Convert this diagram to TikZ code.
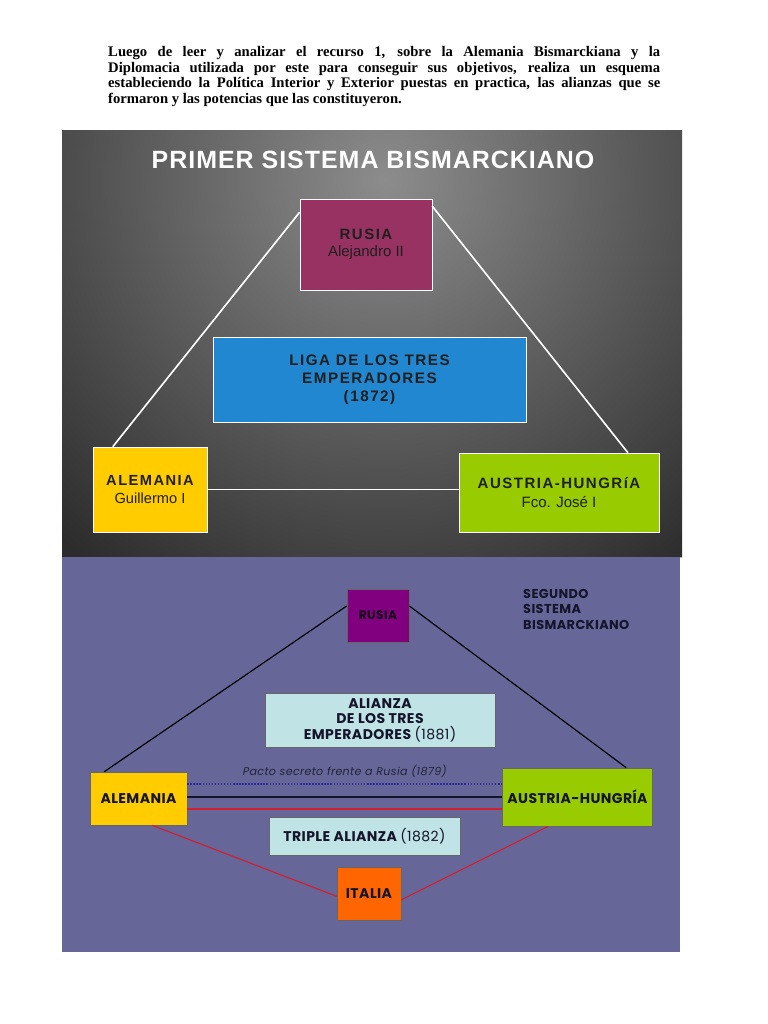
\documentclass[tikz,border=0pt]{standalone}
\usepackage{fontspec}
\setmainfont{Liberation Serif}
\newfontfamily\arial{Liberation Sans}
\newfontfamily\arialesp[LetterSpace=10]{Liberation Sans}
\newfontfamily\titulofont[LetterSpace=4]{Liberation Sans}
\newfontfamily\gothic[LetterSpace=3]{Poppins}
\definecolor{gris claro}{HTML}{8C8C8C}
\definecolor{gris oscuro}{HTML}{2C2C2C}
\definecolor{morado1}{HTML}{983262}
\definecolor{azul liga}{HTML}{2187D0}
\definecolor{amarillo}{HTML}{FFCC00}
\definecolor{verde}{HTML}{99CC00}
\definecolor{fondo2}{HTML}{666699}
\definecolor{morado2}{HTML}{800080}
\definecolor{celeste}{HTML}{C0E3E6}
\definecolor{naranja}{HTML}{FF6600}
\definecolor{rojo}{HTML}{D02030}
\definecolor{azul pacto}{HTML}{2B2B9E}
\definecolor{tinta}{HTML}{14142A}
\begin{document}
\begin{tikzpicture}[x=0.03cm,y=-0.03cm,
    caja1/.style={draw=white,line width=0.5pt,inner sep=0pt,align=center,text=black!88},
    caja2/.style={draw=black!60,line width=0.5pt,inner sep=0pt,align=center,text=tinta,
        font=\gothic\bfseries\fontsize{12}{13.2}\selectfont}]
    \useasboundingbox[fill=white] (0,0) rectangle (768,1024);
    % enunciado
    \node[anchor=north west,inner sep=0pt,text width=16.56cm,align=justify,
        font=\bfseries\fontsize{12.5}{13.4}\selectfont] (enunciado) at (108,46)
        {Luego de leer y analizar el recurso 1, sobre la Alemania Bismarckiana y la\linebreak
        Diplomacia utilizada por este para conseguir sus objetivos, realiza un esquema\linebreak
        estableciendo la Política Interior y Exterior puestas en practica, las alianzas que se\linebreak
        formaron y las potencias que las constituyeron.};
    % primer sistema
    \begin{scope}
        \clip (62,130) rectangle (682,557);
        \fill[gris oscuro] (62,130) rectangle (682,557);
        \shade[inner color=gris claro,outer color=gris oscuro] (385,180) circle (14.5cm);
    \end{scope}
    \draw[gray!60,line width=0.6pt] (62,557)--(682,557);
    \node[text=white,font=\titulofont\bfseries\fontsize{21.3}{24}\selectfont] (titulo) at (373,160) {PRIMER SISTEMA BISMARCKIANO};
    \node[caja1,fill=morado1,minimum width=3.96cm,minimum height=2.73cm,font=\fontsize{12.8}{14.5}\selectfont] (rusia1) at (366,244.5)
        {{\arialesp\bfseries RUSIA}\\{\arial\color{black!88}Alejandro II}};
    \node[caja1,fill=azul liga,minimum width=9.39cm,minimum height=2.55cm,font=\arialesp\bfseries\fontsize{13}{15.3}\selectfont] (liga) at (369.5,379.5)
        {LIGA DE LOS TRES\\EMPERADORES\\(1872)};
    \node[caja1,fill=amarillo,minimum width=3.42cm,minimum height=2.55cm,font=\fontsize{12.5}{15.3}\selectfont] (alemania1) at (150,489.5)
        {{\arialesp\bfseries ALEMANIA}\\{\arial Guillermo I}};
    \node[caja1,fill=verde,minimum width=6cm,minimum height=2.37cm,font=\fontsize{12.8}{15.3}\selectfont] (austria1) at (559,492.5)
        {{\arialesp\bfseries AUSTRIA-HUNGRíA}\\[1pt]{\arial Fco. José I}};
    \draw[white,line width=1.4pt] (rusia1.154) -- (alemania1.131);
    \draw[white,line width=1.4pt] (rusia1.30) -- (austria1.30);
    \draw[white,line width=1.4pt] (alemania1.east) -- (alemania1.east -| austria1.west);
    % segundo sistema
    \fill[fondo2] (62,557) rectangle (680,952);
    \node[caja2,fill=morado2,minimum width=1.86cm,minimum height=1.59cm,text=black!80!morado2,font=\gothic\bfseries\fontsize{10.5}{12}\selectfont] (rusia2) at (378,615.5) {RUSIA};
    \node[anchor=north west,align=left,inner sep=0pt,text=tinta,font=\gothic\bfseries\fontsize{11}{13.2}\selectfont] (segundo) at (523,589)
        {SEGUNDO\\SISTEMA\\BISMARCKIANO};
    \node[caja2,fill=celeste,minimum width=6.9cm,minimum height=1.62cm] (alianza) at (380,720)
        {ALIANZA\\DE LOS TRES\\EMPERADORES {\mdseries (1881)}};
    \node[caja2,fill=amarillo,minimum width=2.91cm,minimum height=1.59cm] (alemania2) at (138.5,798.5) {ALEMANIA};
    \node[caja2,fill=verde,minimum width=4.5cm,minimum height=1.74cm] (austria2) at (577.5,797) {AUSTRIA-HUNGRÍA};
    \node[caja2,fill=celeste,minimum width=5.73cm,minimum height=1.14cm] (triple) at (364.5,836)
        {TRIPLE ALIANZA {\mdseries (1882)}};
    \node[caja2,fill=naranja,minimum width=1.92cm,minimum height=1.59cm] (italia) at (369,893.5) {ITALIA};
    \draw[black,line width=1pt] (rusia2.163) -- (alemania2.142);
    \draw[black,line width=1pt] (rusia2.17) -- (austria2.31);
    \draw[azul pacto,line width=1.3pt,dash pattern=on 1.3pt off 1.3pt] ([yshift=0.43cm]alemania2.east) --
        node[pos=0.5,above=2pt,text=black!65!fondo2,font=\gothic\itshape\fontsize{9.5}{11}\selectfont] (pacto) {Pacto secreto frente a Rusia (1879)}
        ([yshift=0.43cm]alemania2.east -| austria2.west);
    \draw[tinta,line width=1.4pt] ([yshift=0.05cm]alemania2.east) -- ([yshift=0.05cm]alemania2.east -| austria2.west);
    \draw[rojo,line width=1.4pt] ([yshift=-0.31cm]alemania2.east) -- ([yshift=-0.31cm]alemania2.east -| austria2.west);
    \draw[rojo,line width=1pt] (alemania2.-63) -- (italia.185);
    \draw[rojo,line width=1pt] (austria2.-135) -- (italia.-11);
\end{tikzpicture}
\end{document}
